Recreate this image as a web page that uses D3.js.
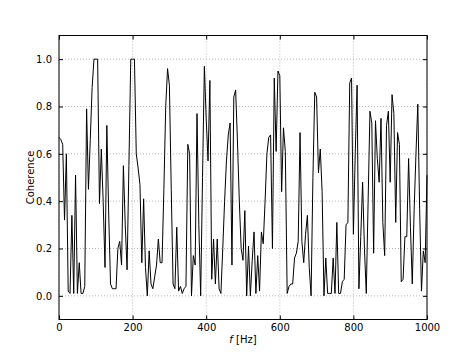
<!DOCTYPE html>
<html>
<head>
<meta charset="utf-8">
<script src="https://cdn.jsdelivr.net/npm/d3@7"></script>
<style>
	html, body { margin: 0; padding: 0; background: #fff; }
	svg text { font-family: "DejaVu Sans", sans-serif; fill: #000; }
</style>
</head>
<body>
<div id="chart"></div>
<script>
// frequency grid (Hz) and coherence
const freqStep = 5;
const freqs = d3.range(0, 1000 + freqStep, freqStep);
const coherence = [
	0.67, 0.66, 0.64, 0.32, 0.60, 0.02, 0.01, 0.34, 0.01, 0.51,
	0.01, 0.14, 0.01, 0.01, 0.04, 0.79, 0.45, 0.66, 0.88, 1.00,
	1.00, 1.00, 0.39, 0.62, 0.40, 0.12, 0.72, 0.35, 0.05, 0.03,
	0.03, 0.03, 0.20, 0.23, 0.13, 0.55, 0.30, 0.11, 0.55, 1.00,
	1.00, 1.00, 0.60, 0.54, 0.47, 0.14, 0.41, 0.12, 0.00, 0.19,
	0.05, 0.03, 0.08, 0.13, 0.24, 0.14, 0.14, 0.45, 0.80, 0.96,
	0.89, 0.45, 0.05, 0.03, 0.29, 0.02, 0.04, 0.01, 0.03, 0.04,
	0.64, 0.60, 0.00, 0.17, 0.13, 0.77, 0.30, 0.00, 0.50, 0.97,
	0.75, 0.57, 0.91, 0.07, 0.24, 0.05, 0.24, 0.03, 0.01, 0.20,
	0.40, 0.57, 0.68, 0.73, 0.13, 0.84, 0.87, 0.65, 0.40, 0.20,
	0.15, 0.36, 0.00, 0.21, 0.00, 0.15, 0.27, 0.01, 0.17, 0.02,
	0.27, 0.22, 0.40, 0.60, 0.67, 0.68, 0.20, 0.92, 0.61, 0.95,
	0.93, 0.44, 0.71, 0.61, 0.01, 0.04, 0.05, 0.05, 0.16, 0.18,
	0.23, 0.69, 0.23, 0.14, 0.26, 0.34, 0.12, 0.00, 0.50, 0.86,
	0.84, 0.52, 0.62, 0.44, 0.00, 0.16, 0.01, 0.01, 0.01, 0.16,
	0.01, 0.31, 0.01, 0.01, 0.06, 0.07, 0.30, 0.31, 0.90, 0.92,
	0.26, 0.60, 0.89, 0.03, 0.25, 0.48, 0.20, 0.01, 0.40, 0.78,
	0.73, 0.18, 0.74, 0.58, 0.48, 0.75, 0.31, 0.17, 0.72, 0.78,
	0.48, 0.85, 0.77, 0.31, 0.69, 0.64, 0.06, 0.07, 0.25, 0.25,
	0.58, 0.29, 0.05, 0.36, 0.60, 0.81, 0.37, 0.02, 0.19, 0.14,
	0.51
];
const xTicks = [0, 200, 400, 600, 800, 1000];
const yTicks = [0.0, 0.2, 0.4, 0.6, 0.8, 1.0];
const xLabel = "[Hz]";
const yLabel = "Coherence";

const width = 474, height = 355;
const margin = {top: 35.5, right: 47, bottom: 35.5, left: 59};
const w = width - margin.left - margin.right;
const h = height - margin.top - margin.bottom;

const svg = d3.select("#chart")
	.append("svg")
	.attr("width", width)
	.attr("height", height);

const chart = svg.append("g")
	.attr("transform", "translate(" + margin.left + "," + margin.top + ")");

const x = d3.scaleLinear().domain([0, 1000]).range([0, w]);
const y = d3.scaleLinear().domain([-0.1, 1.1]).range([h, 0]);

// dotted grid
chart.selectAll("line.gx")
	.data(xTicks)
	.enter().append("line")
	.attr("class", "gx")
	.attr("x1", x).attr("x2", x)
	.attr("y1", 0).attr("y2", h)
	.style("stroke", "#888")
	.style("stroke-width", 0.6)
	.style("stroke-dasharray", "1,2");

chart.selectAll("line.gy")
	.data(yTicks)
	.enter().append("line")
	.attr("class", "gy")
	.attr("x1", 0).attr("x2", w)
	.attr("y1", y).attr("y2", y)
	.style("stroke", "#888")
	.style("stroke-width", 0.6)
	.style("stroke-dasharray", "1,2");

// coherence line
const line = d3.line()
	.x((d, i) => x(freqs[i]))
	.y(d => y(d));

chart.append("path")
	.datum(coherence)
	.attr("d", line)
	.style("fill", "none")
	.style("stroke", "#000")
	.style("stroke-width", 1)
	.style("stroke-linejoin", "miter");

// axes, ticks pointing inward on all four sides
const styleAxis = g => {
	g.select(".domain").remove();
	g.selectAll(".tick line").style("stroke", "#000").style("stroke-width", 1);
	g.selectAll(".tick text").style("font-size", "10px");
};

chart.append("g")
	.attr("transform", "translate(0," + h + ")")
	.call(d3.axisBottom(x).tickValues(xTicks).tickFormat(d3.format("d"))
		.tickSizeInner(-4).tickSizeOuter(0).tickPadding(4))
	.call(styleAxis);

chart.append("g")
	.call(d3.axisTop(x).tickValues(xTicks).tickFormat("")
		.tickSizeInner(-4).tickSizeOuter(0))
	.call(styleAxis);

chart.append("g")
	.call(d3.axisLeft(y).tickValues(yTicks).tickFormat(d3.format(".1f"))
		.tickSizeInner(-4).tickSizeOuter(0).tickPadding(7))
	.call(styleAxis);

chart.append("g")
	.attr("transform", "translate(" + w + ",0)")
	.call(d3.axisRight(y).tickValues(yTicks).tickFormat("")
		.tickSizeInner(-4).tickSizeOuter(0))
	.call(styleAxis);

chart.append("rect")
	.attr("width", w)
	.attr("height", h)
	.style("fill", "none")
	.style("stroke", "#000")
	.style("stroke-width", 1);

// labels
const xl = svg.append("text")
	.attr("x", margin.left + w / 2)
	.attr("y", 343)
	.attr("text-anchor", "middle")
	.style("font-size", "10px");
xl.append("tspan").style("font-style", "italic").text("f");
xl.append("tspan").text(" " + xLabel);

svg.append("text")
	.attr("transform", "translate(34," + (margin.top + h / 2) + ") rotate(-90)")
	.attr("text-anchor", "middle")
	.style("font-size", "10px")
	.text(yLabel);
</script>
</body>
</html>
